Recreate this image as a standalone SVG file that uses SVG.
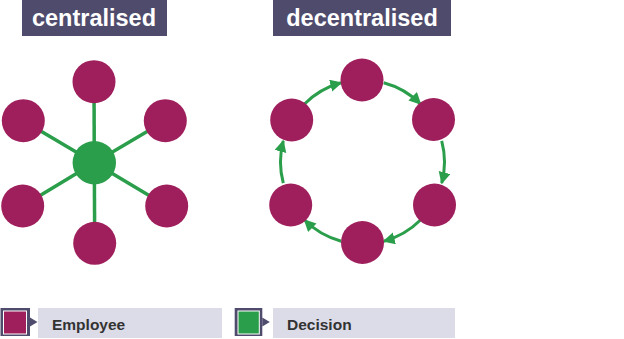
<svg xmlns="http://www.w3.org/2000/svg" width="624" height="339" viewBox="0 0 624 339">
<style>
.title{fill:#4f4b6c}
.ttxt{font-family:"Liberation Sans",Arial,sans-serif;font-weight:bold;font-size:23.5px;fill:#ffffff;text-anchor:middle}
.emp{fill:#9f1f5c}
.dec{fill:#2a9e4a}
.spoke{stroke:#2a9e4a;stroke-width:3.5;fill:none}
.ring{stroke:#2a9e4a;stroke-width:3;fill:none}
.lbox{fill:#4f4b6c}
.lpanel{fill:#dcdbe8}
.ltxt{font-family:"Liberation Sans",Arial,sans-serif;font-weight:bold;font-size:15.5px;fill:#333333}
</style>
<defs>
<marker id="ah" markerUnits="userSpaceOnUse" markerWidth="14" markerHeight="14" refX="11" refY="6" orient="auto">
<path d="M0,0 L12,6 L0,12 Z" fill="#2a9e4a"/>
</marker>
</defs>
<g id="title-centralised">
<rect class="title" x="22" y="0" width="145" height="36"/>
<text class="ttxt" x="94" y="26">centralised</text>
</g>
<g id="title-decentralised">
<rect class="title" x="273" y="0" width="178" height="36"/>
<text class="ttxt" x="362" y="26">decentralised</text>
</g>
<g id="connectors">
<line class="spoke" x1="94.3" y1="162.7" x2="94" y2="81.7"/>
<line class="spoke" x1="94.3" y1="162.7" x2="23.3" y2="120.7"/>
<line class="spoke" x1="94.3" y1="162.7" x2="165.3" y2="120.7"/>
<line class="spoke" x1="94.3" y1="162.7" x2="22.7" y2="206"/>
<line class="spoke" x1="94.3" y1="162.7" x2="166.7" y2="206"/>
<line class="spoke" x1="94.3" y1="162.7" x2="94.7" y2="243.3"/>
<path class="ring" marker-end="url(#ah)" d="M383.7,82.8 A82,82 0 0 1 420.5,104"/>
<path class="ring" marker-end="url(#ah)" d="M441.7,140.8 A82,82 0 0 1 441.7,183.2"/>
<path class="ring" marker-end="url(#ah)" d="M420.5,220 A82,82 0 0 1 383.7,241.2"/>
<path class="ring" marker-end="url(#ah)" d="M341.3,241.2 A82,82 0 0 1 304.5,220"/>
<path class="ring" marker-end="url(#ah)" d="M283.3,183.2 A82,82 0 0 1 283.3,140.8"/>
<path class="ring" marker-end="url(#ah)" d="M304.5,104 A82,82 0 0 1 341.3,82.8"/>
</g>
<g id="c-center"><circle class="dec" cx="94.3" cy="162.7" r="21.7"/></g>
<g id="c-top"><circle class="emp" cx="94" cy="81.7" r="21.5"/></g>
<g id="c-ul"><circle class="emp" cx="23.3" cy="120.7" r="21.5"/></g>
<g id="c-ur"><circle class="emp" cx="165.3" cy="120.7" r="21.5"/></g>
<g id="c-ll"><circle class="emp" cx="22.7" cy="206" r="21.5"/></g>
<g id="c-lr"><circle class="emp" cx="166.7" cy="206" r="21.5"/></g>
<g id="c-bottom"><circle class="emp" cx="94.7" cy="243.3" r="21.5"/></g>
<g id="d-top"><circle class="emp" cx="362" cy="80" r="21.5"/></g>
<g id="d-ur"><circle class="emp" cx="433.5" cy="119.5" r="21.5"/></g>
<g id="d-lr"><circle class="emp" cx="434.5" cy="205" r="21.5"/></g>
<g id="d-bottom"><circle class="emp" cx="362.5" cy="242.5" r="21.5"/></g>
<g id="d-ll"><circle class="emp" cx="290.7" cy="205" r="21.5"/></g>
<g id="d-ul"><circle class="emp" cx="291.7" cy="120" r="21.5"/></g>
<g id="legend-employee">
<rect class="lpanel" x="38" y="308" width="184" height="30"/>
<rect class="lbox" x="0.5" y="308" width="29.5" height="28"/>
<path class="lbox" d="M30,317.5 L37.5,322 L30,326.5 Z"/>
<rect class="emp" x="3.5" y="311" width="23" height="23" stroke="#ffffff" stroke-width="1"/>
<text class="ltxt" x="52" y="330">Employee</text>
</g>
<g id="legend-decision">
<rect class="lpanel" x="273" y="308" width="182" height="30"/>
<rect class="lbox" x="234.7" y="308" width="27.6" height="28"/>
<path class="lbox" d="M262.3,317.5 L269.8,322 L262.3,326.5 Z"/>
<rect class="dec" x="238" y="311" width="21.3" height="23" stroke="#ffffff" stroke-width="1"/>
<text class="ltxt" x="287" y="330">Decision</text>
</g>
</svg>
